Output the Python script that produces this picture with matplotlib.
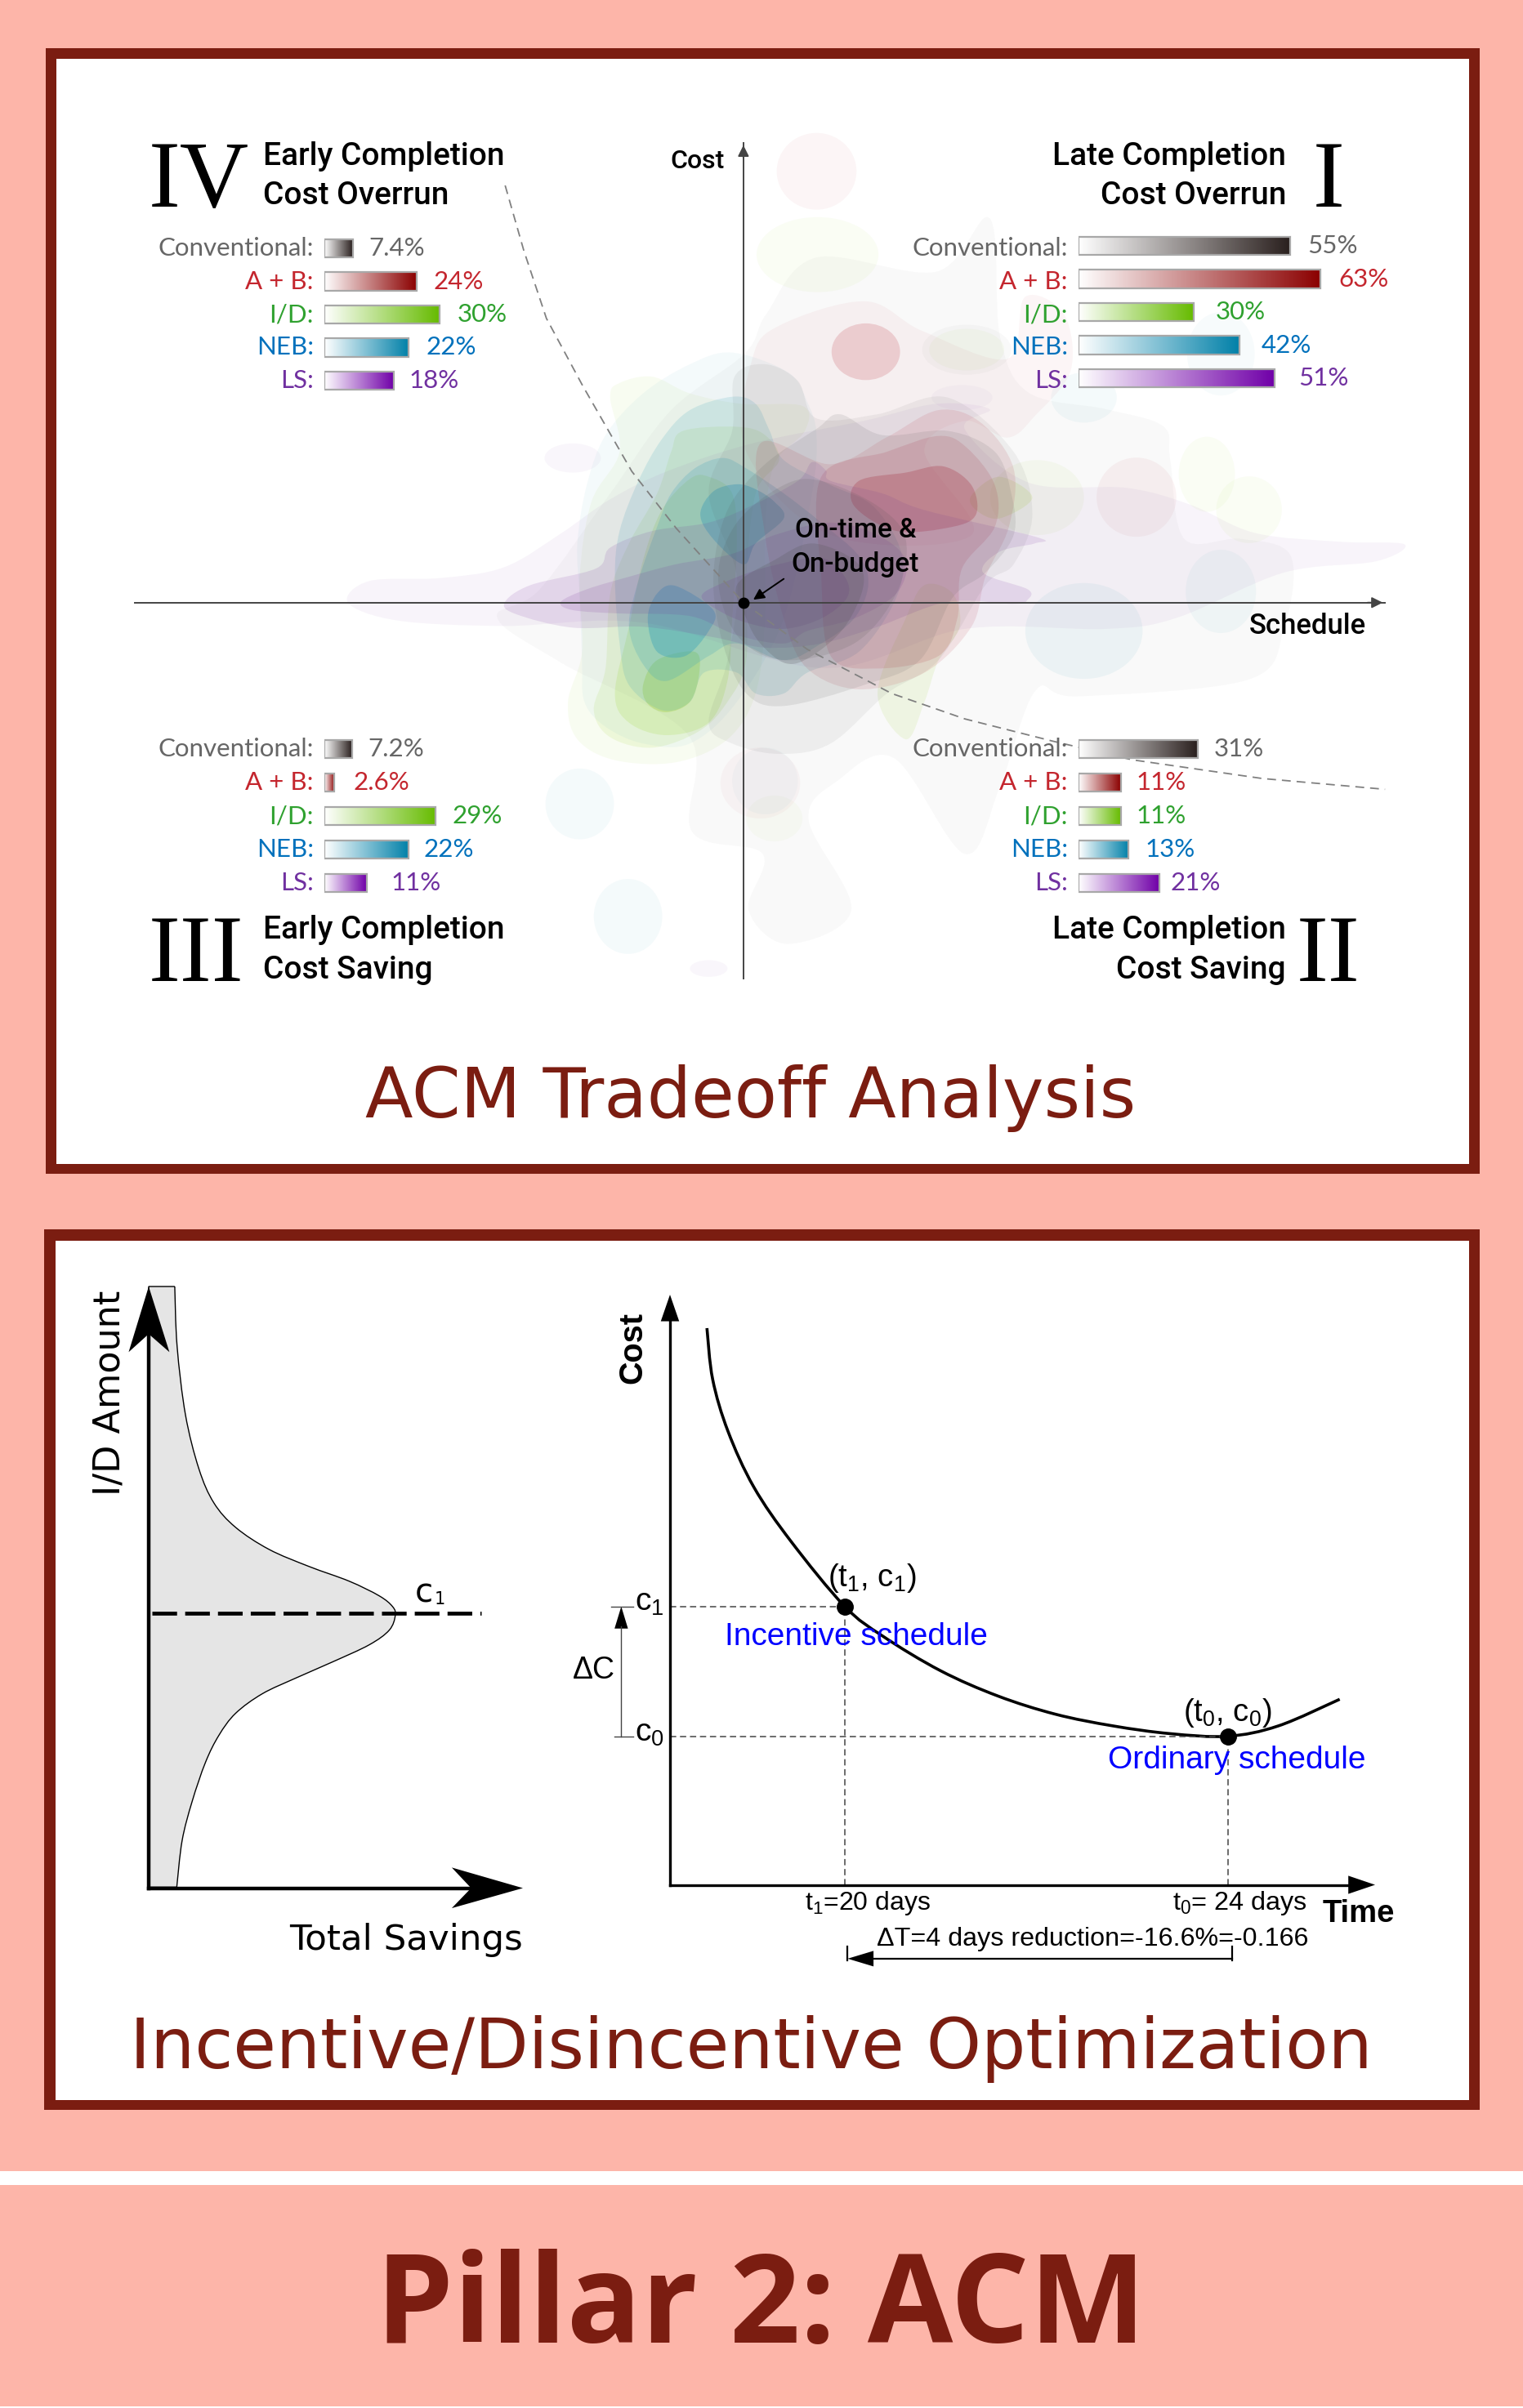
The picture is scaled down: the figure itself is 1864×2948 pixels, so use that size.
import numpy as np
import matplotlib
matplotlib.use('Agg')
import matplotlib.pyplot as plt
from matplotlib.path import Path
from matplotlib.patches import PathPatch, Ellipse, Rectangle, Polygon
from matplotlib.colors import LinearSegmentedColormap

W, H = 1864, 2948
PINK = '#FDB5A9'
MAROON = '#7B1D11'
LABEL_FONT = ['Lato', 'DejaVu Sans']
HEAD_FONT = ['Roboto', 'DejaVu Sans']
ARIAL = ['Liberation Sans', 'DejaVu Sans']

# ---- tradeoff shares per quadrant, percent
methods = ['Conventional:', 'A + B:', 'I/D:', 'NEB:', 'LS:']
shares_late_overrun = [55, 63, 30, 42, 51]
shares_early_overrun = [7.4, 24, 30, 22, 18]
shares_early_saving = [7.2, 2.6, 29, 22, 11]
shares_late_saving = [31, 11, 11, 13, 21]
labels_late_overrun = ['55%', '63%', '30%', '42%', '51%']
labels_early_overrun = ['7.4%', '24%', '30%', '22%', '18%']
labels_early_saving = ['7.2%', '2.6%', '29%', '22%', '11%']
labels_late_saving = ['31%', '11%', '11%', '13%', '21%']
gaps_late_overrun = [22, 22, 27, 26, 30]
gaps_early_overrun = [20, 21, 22, 21, 19]
gaps_early_saving = [20, 23, 20, 18, 30]
gaps_late_saving = [20, 19, 19, 20, 14]
bar_ends = ['#2A201E', '#8B0000', '#66BB00', '#0080A8', '#7000A8']
text_colors = ['#666666', '#C4262E', '#2FA12F', '#0071BC', '#7030A0']

# ---- density outlines in schedule / cost plane units, origin at (714, 662)
origin = (714, 662)
grey_levels = [
    [(1239, -260), (1125, -132), (869, -166), (763, -31), (717, 64), (560, 200), (430, 400), (279, 631), (189, 698),
     (325, 806), (597, 981), (604, 1211), (755, 1265), (725, 1400), (808, 1481), (944, 1400), (853, 1184), (914, 1090),
     (1035, 1035), (1186, 1265), (1261, 1103), (1337, 873), (1428, 887), (1790, 847), (1866, 725), (1881, 550),
     (1775, 509), (1654, 509), (1624, 320), (1609, 239), (1488, 198), (1322, 158), (1261, 23)],
    [(695, 120), (760, 90), (830, 130), (870, 220), (1000, 210), (1150, 170), (1290, 300), (1330, 450), (1290, 570),
     (1230, 620), (1130, 800), (1020, 880), (900, 1000), (790, 1025), (690, 1000), (640, 950), (680, 800), (700, 600),
     (640, 400), (690, 250)],
    [(870, 245), (920, 210), (1010, 260), (1150, 250), (1250, 300), (1285, 400), (1290, 500), (1230, 590), (1160, 650),
     (1090, 800), (970, 860), (800, 910), (720, 880), (670, 760), (650, 600), (680, 440), (760, 330)],
    [(800, 380), (880, 370), (1000, 430), (1060, 510), (1040, 640), (950, 760), (800, 800), (700, 740), (660, 600),
     (700, 470)],
    [(780, 560), (860, 520), (950, 560), (970, 620), (930, 720), (860, 790), (805, 808), (750, 760), (720, 700),
     (700, 620)],
]
red_levels = [
    [(733, 77), (793, -4), (974, -61), (1095, 10), (1277, 77), (1314, -71), (1397, -31), (1412, 104), (1337, 212),
     (1277, 266), (1186, 226), (1100, 300), (1200, 500), (900, 500), (720, 300)],
    [(750, 280), (900, 330), (1020, 265), (1130, 200), (1220, 230), (1290, 340), (1280, 480), (1230, 600), (1200, 720),
     (1100, 830), (960, 870), (850, 820), (800, 700), (760, 500)],
    [(880, 360), (1020, 300), (1130, 262), (1190, 290), (1250, 380), (1250, 480), (1180, 580), (1170, 700), (1130, 790),
     (1000, 820), (900, 790), (880, 600)],
    [(960, 370), (1060, 350), (1140, 335), (1200, 380), (1210, 450), (1160, 480), (1040, 490), (950, 430)],
]
green_levels = [
    [(430, 170), (450, 135), (520, 120), (600, 160), (710, 185), (840, 190), (845, 250), (780, 330), (760, 480),
     (760, 700), (740, 880), (680, 990), (570, 1045), (440, 1040), (360, 990), (340, 900), (370, 780), (365, 600),
     (390, 420), (450, 300)],
    [(585, 250), (700, 240), (760, 260), (790, 320), (740, 400), (720, 600), (720, 800), (680, 900), (620, 970),
     (520, 1010), (430, 985), (395, 920), (420, 820), (430, 640), (470, 520), (530, 400), (560, 300)],
    [(600, 365), (640, 360), (690, 400), (700, 520), (690, 700), (680, 850), (640, 950), (550, 980), (470, 950),
     (440, 880), (470, 720), (500, 560), (540, 440)],
    [(610, 780), (620, 830), (600, 900), (550, 925), (510, 905), (500, 860), (530, 800)],
    [(1000, 880), (1060, 700), (1100, 620), (1160, 640), (1175, 720), (1130, 800), (1100, 900), (1060, 990)],
    [(1200, 405), (1260, 360), (1330, 410), (1260, 460), (1210, 440)],
]
blue_levels = [
    [(690, 62), (600, 90), (500, 160), (420, 260), (380, 380), (360, 520), (365, 650), (370, 800), (375, 900), (420, 960),
     (500, 1000), (600, 1000), (700, 900), (800, 700), (860, 400), (870, 260), (850, 180), (810, 110)],
    [(690, 168), (600, 200), (540, 270), (490, 370), (450, 490), (440, 600), (450, 760), (470, 860), (540, 920), (600, 900),
     (630, 830), (700, 830), (740, 880), (800, 880), (850, 830), (960, 780), (1040, 650), (1050, 540), (990, 430),
     (900, 380), (800, 320), (770, 250), (740, 185)],
    [(670, 315), (720, 340), (800, 400), (880, 470), (960, 550), (980, 620), (950, 700), (880, 760), (800, 800), (700, 760),
     (640, 790), (550, 850), (500, 810), (470, 720), (490, 610), (530, 480), (560, 400), (610, 340)],
    [(700, 378), (650, 395), (622, 450), (650, 510), (714, 570), (740, 520), (800, 460), (780, 420), (740, 390)],
    [(570, 622), (650, 680), (640, 730), (590, 790), (530, 780), (510, 700), (530, 640)],
]
purple_levels = [
    [(-129, 662), (-83, 610), (68, 603), (204, 577), (325, 496), (430, 414), (551, 347), (733, 280), (974, 225), (1125, 185),
     (1239, 198), (1186, 246), (1322, 374), (1533, 387), (1669, 428), (1805, 495), (1987, 516), (2123, 522), (2062, 563),
     (1866, 590), (1639, 698), (1488, 725), (1186, 725), (884, 819), (506, 711), (204, 718), (-23, 705)],
    [(205, 662), (260, 620), (400, 580), (430, 530), (520, 490), (640, 470), (730, 430), (830, 370), (860, 325), (890, 345),
     (900, 370), (1010, 400), (1100, 440), (1340, 505), (1335, 520), (1260, 540), (1225, 590), (1320, 630), (1320, 655),
     (1290, 665), (1150, 660), (1000, 720), (880, 760), (760, 770), (650, 745), (500, 720), (350, 722), (230, 690)],
    [(325, 660), (380, 630), (470, 600), (570, 570), (690, 545), (780, 500), (900, 470), (1000, 500), (1060, 560),
     (1040, 640), (950, 700), (850, 730), (800, 760), (700, 740), (620, 700), (560, 690), (450, 688), (350, 680)],
    [(625, 645), (680, 610), (770, 575), (880, 555), (930, 600), (935, 650), (880, 700), (800, 725), (720, 710), (660, 680)],
]
# small isolated patches: centre x, centre y, half width, half height, opacity
grey_spots = [(1190, 55, 95, 60, 0.03)]
red_spots = [(870, -373, 85, 92, 0.05), (975, 60, 73, 68, 0.2), (1552, 409, 85, 95, 0.06), (750, 1095, 85, 85, 0.04)]
green_spots = [(872, -173, 130, 90, 0.05), (1190, 55, 80, 50, 0.05), (1340, 410, 100, 90, 0.06), (1702, 354, 60, 90, 0.05),
               (1792, 439, 70, 80, 0.05), (780, 1180, 60, 55, 0.04)]
blue_spots = [(365, 1145, 73, 85, 0.05), (468, 1415, 73, 90, 0.05), (1440, 730, 125, 115, 0.07), (1440, 170, 70, 60, 0.05),
              (760, 1090, 70, 80, 0.04), (1732, 635, 75, 100, 0.05), (1732, 65, 72, 100, 0.04)]
purple_spots = [(350, 315, 60, 35, 0.04), (1180, 170, 65, 30, 0.03), (640, 1540, 40, 20, 0.04)]

# dashed iso-tradeoff curve
iso_schedule = [206, 246, 294, 371, 476, 571, 714, 850, 1030, 1186, 1372, 1542, 1820, 2082]
iso_cost = [-339, -182, -20, 141, 347, 484, 662, 774, 880, 941, 994, 1039, 1084, 1110]

# ---- total savings vs I/D amount
savings = [78, 85, 110, 150, 195, 260, 360, 480, 600, 690, 730, 738, 720, 660, 550, 440, 340, 260, 210, 170, 130, 100, 84]
id_amount = [1229, 1107, 967, 857, 787, 737, 692, 657, 627, 597, 575, 557, 527, 497, 462, 429, 397, 357, 312, 257, 177, 97, 2]
c1_amount = 562

# ---- time-cost curve, days vs cost above c0 in units of delta C
time_days = [18.56, 18.62, 18.78, 19.05, 19.44, 20, 20.40, 21.0, 21.6, 22.2, 22.8, 23.4, 24, 24.53, 25.17]
cost_units = [3.145, 2.75, 2.35, 1.92, 1.50, 1.0, 0.77, 0.505, 0.31, 0.17, 0.08, 0.02, 0, 0.08, 0.285]
t1, c1 = 20, 1.0
t0, c0 = 24, 0.0


def smooth_path(pts, closed=True):
    # catmull-rom through the points, written out as bezier segments
    pts = np.array(pts, dtype=float)
    n = len(pts)
    verts = [pts[0]]
    codes = [Path.MOVETO]
    for i in range(n if closed else n - 1):
        if closed:
            p0, p1, p2, p3 = pts[i - 1], pts[i], pts[(i + 1) % n], pts[(i + 2) % n]
        else:
            p0, p1, p2, p3 = pts[max(i - 1, 0)], pts[i], pts[i + 1], pts[min(i + 2, n - 1)]
        verts += [p1 + (p2 - p0) / 6, p2 - (p3 - p1) / 6, p2]
        codes += [Path.CURVE4] * 3
    return Path(verts, codes)


def px_axes(left, top, right, bottom):
    ax = fig.add_axes([left / W, 1 - bottom / H, (right - left) / W, (bottom - top) / H])
    ax.axis('off')
    return ax


def px_text(x, y, s, **kw):
    kw.setdefault('va', 'center')
    kw.setdefault('family', LABEL_FONT)
    return fig.text(x / W, 1 - y / H, s, **kw)


def px_rect(left, top, right, bottom, color):
    fig.add_artist(Rectangle((left / W, 1 - bottom / H), (right - left) / W, (bottom - top) / H,
                             transform=fig.transFigure, fc=color, ec='none', zorder=-5))


def draw_share_bars(left, row0, shares, labels, gaps, step=40.5, name_dy=0, value_dy=0):
    # 100 percent spans 470 px
    ax = px_axes(left, row0 - step / 2, left + 470, row0 + 4.5 * step)
    ax.set_xlim(0, 100)
    ax.set_ylim(4.5, -0.5)
    for i, val in enumerate(shares):
        cmap = LinearSegmentedColormap.from_list('fade', ['#FFFFFF', bar_ends[i]])
        ax.imshow(np.linspace(0, 1, 256).reshape(1, -1), extent=(0, val, i + 0.28, i - 0.28), cmap=cmap, aspect='auto')
        ax.barh(i, val, height=0.56, fc='none', ec='#A8A8A8', lw=1.6)
        ax.annotate(methods[i], (0, i), xytext=(-9.5, -name_dy * 0.72), textcoords='offset points', ha='right', va='center',
                    color=text_colors[i], family=LABEL_FONT, fontsize=22.5, annotation_clip=False)
        ax.annotate(labels[i], (val, i), xytext=(gaps[i] * 0.72, -value_dy * 0.72), textcoords='offset points', va='center',
                    color=text_colors[i], family=LABEL_FONT, fontsize=22.5, annotation_clip=False)
    ax.set_xlim(0, 100)
    ax.set_ylim(4.5, -0.5)


plt.rcParams['mathtext.default'] = 'regular'
fig = plt.figure(figsize=(W / 100, H / 100), dpi=100, facecolor=PINK)

# panel frames and the strip above the pillar title
px_rect(56, 59, 1811, 1437, MAROON)
px_rect(69, 72, 1798, 1425, 'white')
px_rect(54, 1505, 1811, 2583, MAROON)
px_rect(68, 1519, 1798, 2571, 'white')
px_rect(0, 2658, W, 2675, 'white')
px_rect(0, 2946, W, H, 'white')

# ---- top panel: density blobs
ax = px_axes(69, 72, 1798, 1425)
ax.set_xlim((69 - 500) * 1.742, (1798 - 500) * 1.742)
ax.set_ylim((1425 - 400) * 1.96, (72 - 400) * 1.96)

families = [
    (green_levels, green_spots, '#A8D93A', [0.07, 0.13, 0.2, 0.35, 0.12, 0.16]),
    (blue_levels, blue_spots, '#3AA6BF', [0.05, 0.16, 0.22, 0.4, 0.4]),
    (red_levels, red_spots, '#C8414F', [0.05, 0.13, 0.16, 0.32]),
    (purple_levels, purple_spots, '#7B2FA0', [0.05, 0.13, 0.14, 0.17]),
    (grey_levels, grey_spots, '#505050', [0.03, 0.07, 0.11, 0.13, 0.2]),
]
for levels, spots, color, alphas in families:
    for outline, alpha in zip(levels, alphas):
        ax.add_patch(PathPatch(smooth_path(outline), fc=color, ec='none', alpha=alpha))
    for cx, cy, rx, ry, alpha in spots:
        ax.add_patch(Ellipse((cx, cy), 2 * rx, 2 * ry, fc=color, ec='none', alpha=alpha))

ax.plot(iso_schedule, iso_cost, color='#808080', lw=1.3, dashes=(6, 4))
ax.plot([-584, 2082], [origin[1], origin[1]], color='#444444', lw=1.4)
ax.plot([origin[0], origin[0]], [-441, 1564], color='#444444', lw=1.4)
ax.annotate('', xy=(2082, origin[1]), xytext=(2040, origin[1]),
            arrowprops=dict(arrowstyle='-|>', color='#444444', lw=1.4, mutation_scale=20))
ax.annotate('', xy=(origin[0], -441), xytext=(origin[0], -400),
            arrowprops=dict(arrowstyle='-|>', color='#444444', lw=1.4, mutation_scale=20))
ax.plot(*origin, 'o', color='black', ms=9)
ax.annotate('', xy=(735, 655), xytext=(800, 605), arrowprops=dict(arrowstyle='-|>', color='black', lw=1.4, mutation_scale=20,
                                                                 shrinkA=0, shrinkB=0))

px_text(887, 197, 'Cost', ha='right', family=HEAD_FONT, fontsize=23, fontweight='medium')
px_text(1672, 767, 'Schedule', ha='right', family=HEAD_FONT, fontsize=25, fontweight='medium')
px_text(1047, 649, 'On-time &', ha='center', family=HEAD_FONT, fontsize=24, fontweight='medium')
px_text(1047, 691, 'On-budget', ha='center', family=HEAD_FONT, fontsize=24, fontweight='medium')

# quadrant headers
px_text(322, 192, 'Early Completion', family=HEAD_FONT, fontsize=28, fontweight='medium')
px_text(322, 240, 'Cost Overrun', family=HEAD_FONT, fontsize=28, fontweight='medium')
px_text(1574, 192, 'Late Completion', ha='right', family=HEAD_FONT, fontsize=28, fontweight='medium')
px_text(1574, 240, 'Cost Overrun', ha='right', family=HEAD_FONT, fontsize=28, fontweight='medium')
px_text(322, 1138, 'Early Completion', family=HEAD_FONT, fontsize=28, fontweight='medium')
px_text(322, 1187, 'Cost Saving', family=HEAD_FONT, fontsize=28, fontweight='medium')
px_text(1574, 1138, 'Late Completion', ha='right', family=HEAD_FONT, fontsize=28, fontweight='medium')
px_text(1574, 1187, 'Cost Saving', ha='right', family=HEAD_FONT, fontsize=28, fontweight='medium')
px_text(243, 225, 'IV', ha='center', family='Liberation Serif', fontsize=84)
px_text(1626, 225, 'I', ha='center', family='Liberation Serif', fontsize=84)
px_text(240, 1173, 'III', ha='center', family='Liberation Serif', fontsize=84)
px_text(1626, 1173, 'II', ha='center', family='Liberation Serif', fontsize=84)

draw_share_bars(397, 304, shares_early_overrun, labels_early_overrun, gaps_early_overrun)
draw_share_bars(1320, 301, shares_late_overrun, labels_late_overrun, gaps_late_overrun, name_dy=3)
draw_share_bars(397, 917, shares_early_saving, labels_early_saving, gaps_early_saving, step=41)
draw_share_bars(1320, 917, shares_late_saving, labels_late_saving, gaps_late_saving, step=41)

px_text(919, 1345, 'ACM Tradeoff Analysis', ha='center', family='DejaVu Sans', fontsize=61.6, color=MAROON)

# ---- lower left: savings curve
ax = px_axes(182, 1575, 640, 2311.5)
ax.set_xlim(0, 1120)
ax.set_ylim(0, 1229)
curve_pts = list(zip(savings, id_amount))
curve = smooth_path(curve_pts, closed=False)
outline = Path(np.vstack([curve.vertices, [(0, id_amount[-1]), (0, id_amount[0]), curve_pts[0]]]),
               list(curve.codes) + [Path.LINETO] * 3)
ax.add_patch(PathPatch(outline, fc='#E5E5E5', ec='black', lw=1.0, clip_on=False))
ax.plot([10, 995], [c1_amount, c1_amount], color='black', lw=3.4, dashes=(6.4, 2.1), dash_capstyle='butt', clip_on=False)
ax.plot([0, 0], [0, 1140], color='black', lw=3.2, clip_on=False, solid_capstyle='projecting')
ax.plot([0, 980], [0, 0], color='black', lw=3.2, clip_on=False, solid_capstyle='projecting')
ax.add_patch(Polygon([(0, 1229), (62, 1095), (0, 1132), (-60, 1095)], fc='black', ec='none', clip_on=False))
ax.add_patch(Polygon([(1120, 0), (907, 42), (965, 0), (907, -41)], fc='black', ec='none', clip_on=False))
px_text(508, 1951, 'c', family='DejaVu Sans', fontsize=29)
px_text(532, 1958, '1', family='DejaVu Sans', fontsize=15)
px_text(640, 2375, 'Total Savings', ha='right', family='DejaVu Sans', fontsize=31.3)
px_text(134, 1705, 'I/D Amount', ha='center', rotation=90, family='DejaVu Sans', fontsize=32)

# ---- lower right: time-cost curve
ax = px_axes(820, 1585, 1683, 2307.5)
ax.set_xlim(18.174, 25.54)
ax.set_ylim(-1.145, 3.403)
ax.add_patch(PathPatch(smooth_path(list(zip(time_days, cost_units)), closed=False), fc='none', ec='black', lw=2.6,
                       clip_on=False))
ax.plot([18.174, t1], [c1, c1], color='#444444', lw=1.1, dashes=(5, 3))
ax.plot([18.174, t0], [c0, c0], color='#444444', lw=1.1, dashes=(5, 3))
ax.plot([t1, t1], [-1.145, c1], color='#444444', lw=1.1, dashes=(5, 3))
ax.plot([t0, t0], [-1.145, c0], color='#444444', lw=1.1, dashes=(5, 3))
ax.plot([t1, t0], [c1, c0], 'o', color='black', ms=14, clip_on=False)
ax.plot([18.174, 18.174], [-1.145, 3.2], color='black', lw=2.4, clip_on=False)
ax.plot([18.174, 25.26], [-1.145, -1.145], color='black', lw=2.4, clip_on=False)
ax.add_patch(Polygon([(18.174, 3.403), (18.27, 3.198), (18.078, 3.198)], fc='black', ec='none', clip_on=False))
ax.add_patch(Polygon([(25.54, -1.145), (25.26, -1.075), (25.26, -1.215)], fc='black', ec='none', clip_on=False))
# delta C bracket
ax.plot([17.56, 17.79], [1, 1], color='#444444', lw=1, clip_on=False)
ax.plot([17.59, 17.79], [0, 0], color='#444444', lw=1, clip_on=False)
ax.plot([17.665, 17.665], [0, 0.85], color='#444444', lw=1, clip_on=False)
ax.add_patch(Polygon([(17.665, 1), (17.735, 0.83), (17.595, 0.83)], fc='black', ec='none', clip_on=False))
# delta T bracket
ax.plot([24.05, 24.05], [-1.62, -1.728], color='black', lw=1.6, clip_on=False)
ax.plot([20.03, 20.03], [-1.62, -1.728], color='black', lw=1.6, clip_on=False)
ax.plot([20.3, 24.05], [-1.714, -1.714], color='black', lw=1.6, clip_on=False)
ax.add_patch(Polygon([(20.03, -1.714), (20.3, -1.654), (20.3, -1.774)], fc='black', ec='none', clip_on=False))

px_text(774, 1650, 'Cost', ha='center', rotation=90, family=ARIAL, fontweight='bold', fontsize=28.5)
px_text(1663, 2343, 'Time', ha='center', family=ARIAL, fontweight='bold', fontsize=27.5)
px_text(795, 1962, 'c$_1$', ha='center', family=ARIAL, fontsize=28)
px_text(795, 2122, 'c$_0$', ha='center', family=ARIAL, fontsize=28)
px_text(727, 2045, '\u0394C', ha='center', family=ARIAL, fontsize=27)
px_text(1048, 2004, 'Incentive schedule', ha='center', family=ARIAL, fontsize=28, color='#0000FF')
px_text(1514, 2155, 'Ordinary schedule', ha='center', family=ARIAL, fontsize=28, color='#0000FF')
px_text(1067, 1932, '(t$_1$, c$_1$)', ha='center', family=ARIAL, fontsize=27.5)
px_text(1502, 2097, '(t$_0$, c$_0$)', ha='center', family=ARIAL, fontsize=27.5)
px_text(1062, 2330, 't$_1$=20 days', ha='center', family=ARIAL, fontsize=23)
px_text(1517, 2330, 't$_0$= 24 days', ha='center', family=ARIAL, fontsize=23.3)
px_text(1337, 2374, '\u0394T=4 days reduction=-16.6%=-0.166', ha='center', family=ARIAL, fontsize=23.2)

px_text(919, 2508, 'Incentive/Disincentive Optimization', ha='center', family='DejaVu Sans', fontsize=61.6, color=MAROON)
px_text(931, 2828, 'Pillar 2: ACM', ha='center', family='Open Sans', fontweight='bold', fontsize=109, color=MAROON)

fig.savefig('out.png', dpi=100, facecolor=PINK)
